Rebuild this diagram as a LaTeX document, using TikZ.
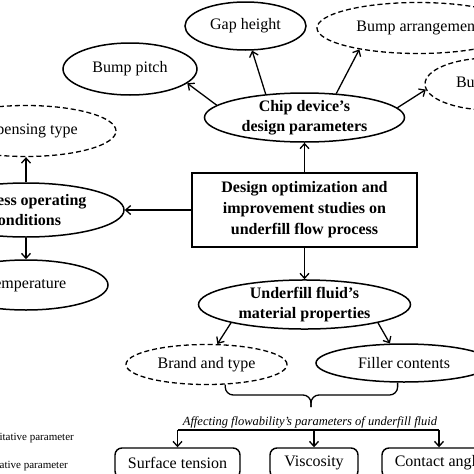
\documentclass[tikz,border=0pt]{standalone}
\usepackage{fontspec}
\setmainfont{Liberation Serif}
\usetikzlibrary{arrows.meta, shapes}

\begin{document}
\begin{tikzpicture}[>={Straight Barb[length=5pt, width=9pt]}, inner sep=0pt, x=1pt, y=-1pt,
		param/.style={ellipse, draw=black, line width=1.5pt, align=center, font=\fontsize{16}{20}\selectfont},
		qualparam/.style={param, line width=1.3pt, dash pattern=on 5pt off 3pt},
		headparam/.style={param, font=\fontsize{16}{20}\selectfont\bfseries},
		flowprop/.style={rectangle, rounded corners=7pt, draw=black, line width=1.4pt, font=\fontsize{16}{20}\selectfont},
		link/.style={->, line width=1.3pt}]
		\useasboundingbox (0,0) rectangle (474,474);
		\clip (0,0) rectangle (474,474);

		\node[rectangle, draw=black, line width=2.5pt, minimum width=225pt, minimum height=74pt, align=center, font=\fontsize{16}{21}\selectfont\bfseries](main) at (304.5,210) {Design optimization and\\improvement studies on\\underfill flow process};

		\node[headparam, minimum width=200pt, minimum height=49pt](chip) at (304.5,117.5) {Chip device’s\\design parameters};
		\node[param, minimum width=121pt, minimum height=48pt](gap) at (245.5,26) {Gap height};
		\node[qualparam, minimum width=202pt, minimum height=51pt](arrange) at (418,28) {Bump arrangement};
		\node[qualparam, minimum width=130pt, minimum height=52pt](bsize) at (490,84) {Bump size};
		\node[param, minimum width=134pt, minimum height=52pt](pitch) at (130,69) {Bump pitch};

		\node[headparam, minimum width=196pt, minimum height=54pt](proc) at (26,210) {Process operating\\conditions};
		\node[qualparam, minimum width=180pt, minimum height=51pt](disp) at (26,131) {Dispensing type};
		\node[param, minimum width=164pt, minimum height=50pt](temp) at (26,285) {Temperature};

		\node[headparam, minimum width=212pt, minimum height=49pt](fluid) at (304.5,304.5) {Underfill fluid’s\\material properties};
		\node[qualparam, minimum width=161pt, minimum height=40pt](brand) at (206.5,364.5) {Brand and type};
		\node[param, minimum width=176pt, minimum height=38pt](filler) at (404,363) {Filler contents};

		\node[font=\fontsize{12.5}{15}\selectfont\itshape](affect) at (310,422) {Affecting flowability’s parameters of underfill fluid};

		\node[flowprop, minimum width=125pt, minimum height=30pt](surf) at (177.5,463) {Surface tension};
		\node[flowprop, minimum width=88pt, minimum height=30pt](visc) at (314,463) {Viscosity};
		\node[flowprop, minimum width=114pt, minimum height=30pt](cont) at (439,463) {Contact angle};

		\node[anchor=east, font=\fontsize{11}{13}\selectfont](quan) at (74,438) {Quantitative parameter};
		\node[anchor=east, font=\fontsize{11}{13}\selectfont](qual) at (68,466) {Qualitative parameter};

		\coordinate (brmid) at (311,395);
		\coordinate (tip) at (311,407);
		\coordinate (bar) at (311,430);

		\draw[link](main) -- (chip);
		\draw[link](main) -- (proc);
		\draw[link](main) -- (fluid);

		\draw[link](chip.149) -- (gap.-75);
		\draw[link](chip.37) -- (arrange.200);
		\draw[link](chip.6) -- (bsize.185);
		\draw[link](chip.172) -- (pitch.-14);

		\draw[link](proc) -- (disp);
		\draw[link](proc) -- (temp);

		\draw[link](fluid.194) -- (brand.62);
		\draw[link](fluid.-14) -- (filler.126);

		\draw[line width=1.3pt, rounded corners=8pt](brand.-47) |- (brmid) -- (tip);
		\draw[line width=1.3pt, rounded corners=8pt](filler.252) |- (brmid) -- (tip);

		\draw[line width=1.3pt](bar -| surf) -- (bar -| cont);
		\draw[link](bar -| surf) -- (surf);
		\draw[link](bar -| visc) -- (visc);
		\draw[link](bar -| cont) -- (cont);
	\end{tikzpicture}
\end{document}
